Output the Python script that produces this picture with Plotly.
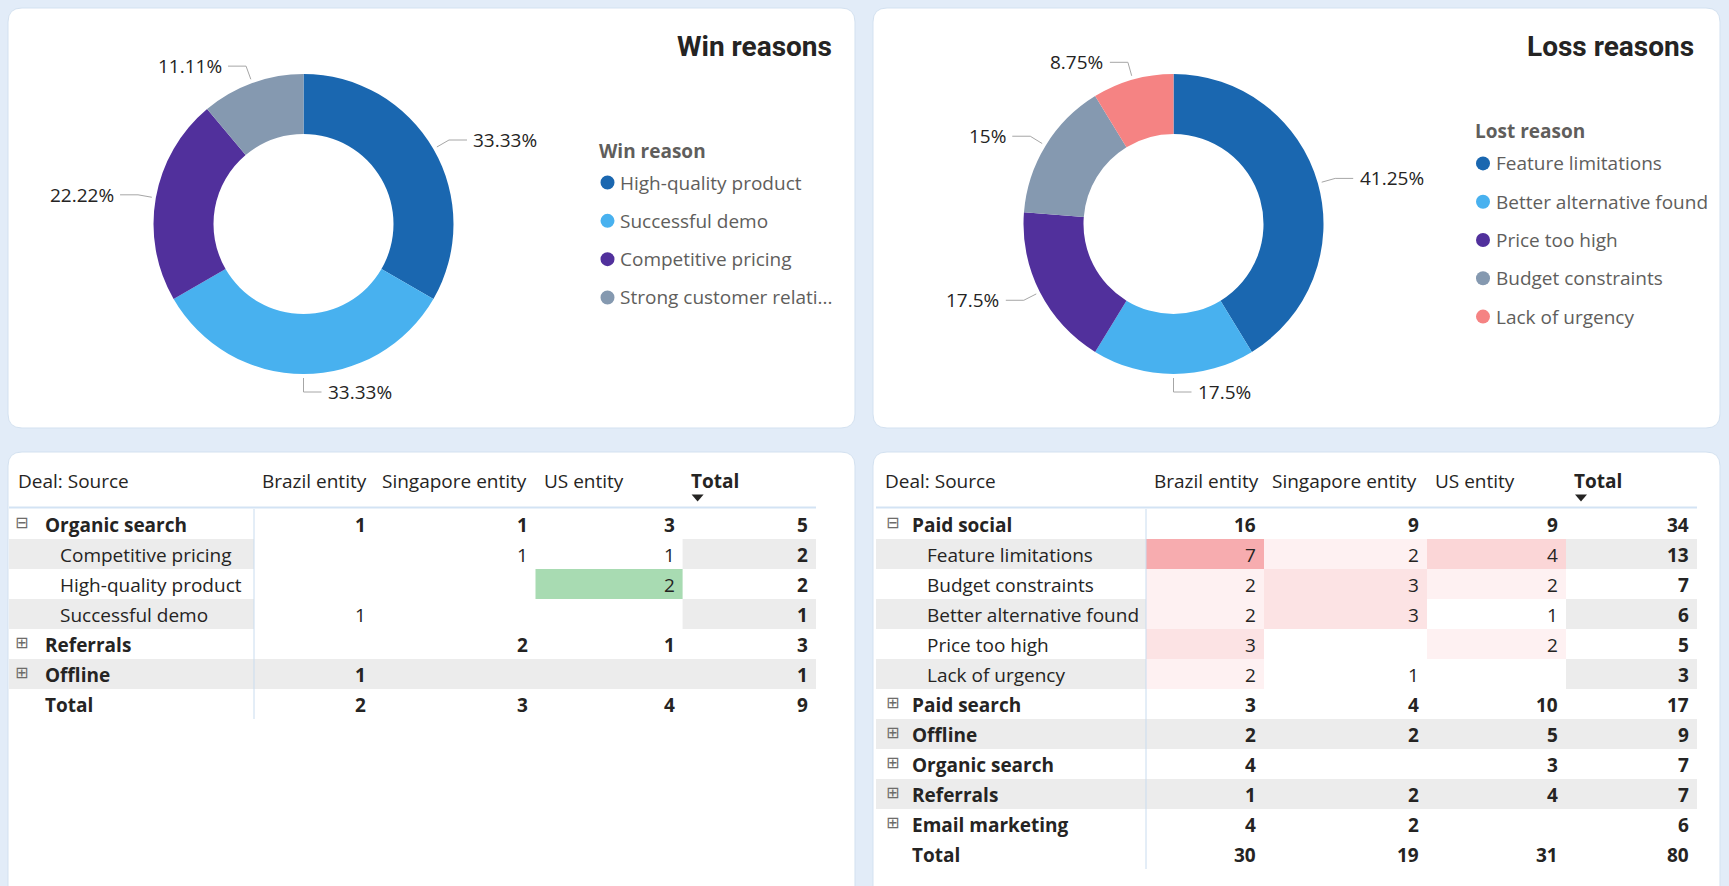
import math
import plotly.graph_objects as go

W, H = 1729, 886

# ---------------- data ----------------
win_labels = ["High-quality product", "Successful demo", "Competitive pricing", "Strong customer relationship"]
win_legend_text = ["High-quality product", "Successful demo", "Competitive pricing", "Strong customer relati..."]
win_values = [3, 3, 2, 1]

loss_labels = ["Feature limitations", "Better alternative found", "Price too high", "Budget constraints", "Lack of urgency"]
loss_values = [33, 14, 14, 12, 7]

entities = ["Brazil entity", "Singapore entity", "US entity"]

win_groups = ["Organic search", "Referrals", "Offline"]
win_group_values = [[1, 1, 3], [None, 2, 1], [1, None, None]]
win_expanded = "Organic search"
win_sub_labels = ["Competitive pricing", "High-quality product", "Successful demo"]
win_sub_values = [[None, 1, 1], [None, None, 2], [1, None, None]]

loss_groups = ["Paid social", "Paid search", "Offline", "Organic search", "Referrals", "Email marketing"]
loss_group_values = [[16, 9, 9], [3, 4, 10], [2, 2, 5], [4, None, 3], [1, 2, 4], [4, 2, None]]
loss_expanded = "Paid social"
loss_sub_labels = ["Feature limitations", "Budget constraints", "Better alternative found", "Price too high", "Lack of urgency"]
loss_sub_values = [[7, 2, 4], [2, 3, 2], [2, 3, 1], [3, None, 2], [2, 1, None]]

# ---------------- style ----------------
win_colors = ["#1A67B0", "#48B1EF", "#51309C", "#8599B0"]
loss_colors = ["#1A67B0", "#48B1EF", "#51309C", "#8599B0", "#F58383"]
FONT = "Open Sans, Segoe UI, sans-serif"
TITLE_FONT = "Roboto, DejaVu Sans, sans-serif"
TEXT = "#252423"
GRAY_TXT = "#605E5C"
BG = "#E2ECF8"
BAND = "#ECECEC"
SEP = "#C9DCEF"

fig = go.Figure()
shapes, annotations = [], []


def X(x):
    return x / W


def Y(y):
    return 1 - y / H


def P(x, y):
    return f"{X(x):.6f},{Y(y):.6f}"


def add_text(x, y, s, size=19, color=TEXT, xanchor="left", family=FONT, yanchor="middle"):
    annotations.append(dict(x=X(x), y=Y(y), xref="paper", yref="paper", text=s, showarrow=False,
                            xanchor=xanchor, yanchor=yanchor,
                            font=dict(family=family, size=size, color=color),
                            borderpad=0, borderwidth=0))


def add_rect(x0, y0, x1, y1, fill, layer="below"):
    shapes.append(dict(type="rect", xref="paper", yref="paper", x0=X(x0), x1=X(x1), y0=Y(y1), y1=Y(y0),
                       fillcolor=fill, line=dict(width=0), layer=layer))


def add_line(points, color, width=1, layer="above"):
    path = "M " + " L ".join(P(x, y) for x, y in points)
    shapes.append(dict(type="path", xref="paper", yref="paper", path=path,
                       line=dict(color=color, width=width), layer=layer))


def add_card(x0, y0, x1, y1, r=14):
    path = (f"M {P(x0 + r, y0)} L {P(x1 - r, y0)} Q {P(x1, y0)} {P(x1, y0 + r)} "
            f"L {P(x1, y1 - r)} Q {P(x1, y1)} {P(x1 - r, y1)} L {P(x0 + r, y1)} "
            f"Q {P(x0, y1)} {P(x0, y1 - r)} L {P(x0, y0 + r)} Q {P(x0, y0)} {P(x0 + r, y0)} Z")
    shapes.append(dict(type="path", xref="paper", yref="paper", path=path, fillcolor="white",
                       line=dict(color="#D3E1F0", width=1), layer="below"))


# cards
add_card(8, 8, 855, 428)
add_card(873, 8, 1720, 428)
add_card(8, 452, 855, 905)
add_card(873, 452, 1720, 905)


def add_donut(labels, values, colors, cx, cy, r):
    fig.add_trace(go.Pie(labels=labels, values=values, hole=0.6, sort=False, direction="clockwise",
                         rotation=0, marker=dict(colors=colors, line=dict(width=0)),
                         textinfo="none", showlegend=False, hoverinfo="label+value+percent",
                         domain=dict(x=[X(cx - r), X(cx + r)], y=[Y(cy + r), Y(cy - r)])))
    total = sum(values)
    cum = 0
    for v in values:
        mid = (cum + v / 2) / total * 2 * math.pi
        cum += v
        sx, sy = math.sin(mid), -math.cos(mid)
        p0 = (cx + (r + 4) * sx, cy + (r + 4) * sy)
        p1 = (cx + (r + 18) * sx, cy + (r + 18) * sy)
        side = 1 if sx >= -1e-9 else -1
        p2 = (p1[0] + side * 18, p1[1])
        add_line([p0, p1, p2], "#A6A6A6", 1)
        pct = f"{100 * v / total:.2f}".rstrip("0").rstrip(".") + "%"
        add_text(p2[0] + side * 6.5, p1[1], pct, size=19,
                 xanchor="left" if side > 0 else "right")


def add_legend(title, items, colors, mx, cy):
    n = len(items)
    step = 38.3
    top = cy - (32 + step * (n - 1)) / 2
    add_text(mx - 8.5, top, f"<b>{title}</b>", size=19, color=GRAY_TXT)
    for i, (it, c) in enumerate(zip(items, colors)):
        y = top + 32 + step * i
        shapes.append(dict(type="circle", xref="paper", yref="paper", x0=X(mx - 7), x1=X(mx + 7),
                           y0=Y(y + 7), y1=Y(y - 7), fillcolor=c, line=dict(width=0), layer="above"))
        add_text(mx + 12.5, y, it, size=19, color=GRAY_TXT)


# donuts
add_donut(win_labels, win_values, win_colors, 303.5, 224, 150)
add_donut(loss_labels, loss_values, loss_colors, 1173.5, 224, 150)
add_legend("Win reason", win_legend_text, win_colors, 607.5, 224)
add_legend("Lost reason", loss_labels, loss_colors, 1483, 224)

add_text(832, 46, "<b>Win reasons</b>", size=28, family=TITLE_FONT, color="#252423", xanchor="right")
add_text(1694, 46, "<b>Loss reasons</b>", size=28, family=TITLE_FONT, color="#252423", xanchor="right")


def add_table(x_edges, groups, group_vals, expanded, sub_labels, sub_vals, cf_rgb, icon_dx):
    x_left = x_edges[0]
    row_h = 30
    hb = 509
    nc = len(entities)
    hy = 481.5
    add_text(x_left + 8.5, hy, "Deal: Source")
    for j, e in enumerate(entities):
        add_text(x_edges[1 + j] + 8, hy, e)
    add_text(x_edges[-2] + 8, hy - 1, "<b>Total</b>")
    # sort indicator (small filled triangle under "Total")
    ax = x_edges[-2] + 15
    shapes.append(dict(type="path", xref="paper", yref="paper",
                       path=f"M {P(ax - 6, 494.5)} L {P(ax + 6, 494.5)} L {P(ax, 501.5)} Z",
                       fillcolor="#252423", line=dict(width=0), layer="above"))

    rows = []
    for g, vals in zip(groups, group_vals):
        rows.append(("group", g, vals, g == expanded))
        if g == expanded:
            for s, sv in zip(sub_labels, sub_vals):
                rows.append(("sub", s, sv, None))
    totals = [sum(v[j] or 0 for v in group_vals) for j in range(nc)]
    rows.append(("total", "Total", totals, None))

    flat = [v for sv in sub_vals for v in sv if v is not None]
    vmin, vmax = min(flat), max(flat)

    def cf(v):
        if v is None:
            return None
        t = (v - vmin) / (vmax - vmin) if vmax > vmin else 1
        if t <= 0:
            return None
        r, g, b = [round(255 + (c - 255) * t) for c in cf_rgb]
        return f"rgb({r},{g},{b})"

    for i, (kind, label, vals, exp) in enumerate(rows):
        y0 = hb + i * row_h
        y1 = y0 + row_h
        yc = (y0 + y1) / 2 + 1
        band = (i % 2 == 1) and kind != "total"
        if band and kind != "sub":
            add_rect(x_edges[0], y0, x_edges[-1], y1, BAND)
        elif band:
            add_rect(x_edges[0], y0, x_edges[1], y1, BAND)
            add_rect(x_edges[-2], y0, x_edges[-1], y1, BAND)
        if kind == "sub":
            for j in range(nc):
                f = cf(vals[j])
                if f:
                    add_rect(x_edges[1 + j], y0, x_edges[2 + j], y1, f)
        bold = kind != "sub"
        if kind == "group":
            add_text(x_left + icon_dx, yc - 3, "⊟" if exp else "⊞", size=16,
                     family="DejaVu Sans", color="#6E6C6A", xanchor="center")
            add_text(x_left + 36, yc, f"<b>{label}</b>")
        elif kind == "sub":
            add_text(x_left + 51, yc, label)
        else:
            add_text(x_left + 36, yc, f"<b>{label}</b>")
        for j in range(nc):
            v = vals[j]
            if v is None:
                continue
            s = str(v)
            add_text(x_edges[2 + j] - 8, yc, f"<b>{s}</b>" if bold else s, xanchor="right")
        tot = sum(v or 0 for v in vals)
        add_text(x_edges[-1] - 8, yc, f"<b>{tot}</b>", xanchor="right")

    add_line([(x_edges[0], hb - 1.5), (x_edges[-1], hb - 1.5)], "#D3E3F4", 2)
    add_line([(x_edges[1], hb), (x_edges[1], hb + len(rows) * row_h)], SEP, 1)


add_table([9, 254, 373.5, 535.5, 682.6, 816], win_groups, win_group_values, win_expanded,
          win_sub_labels, win_sub_values, (168, 219, 178), 12)
add_table([876, 1146, 1264, 1427, 1566, 1697], loss_groups, loss_group_values, loss_expanded,
          loss_sub_labels, loss_sub_values, (247, 172, 175), 16)

fig.update_layout(width=W, height=H, margin=dict(l=0, r=0, t=0, b=0), paper_bgcolor=BG,
                  plot_bgcolor=BG, showlegend=False, shapes=shapes, annotations=annotations,
                  font=dict(family=FONT, color=TEXT))

fig.write_html("out.html")
